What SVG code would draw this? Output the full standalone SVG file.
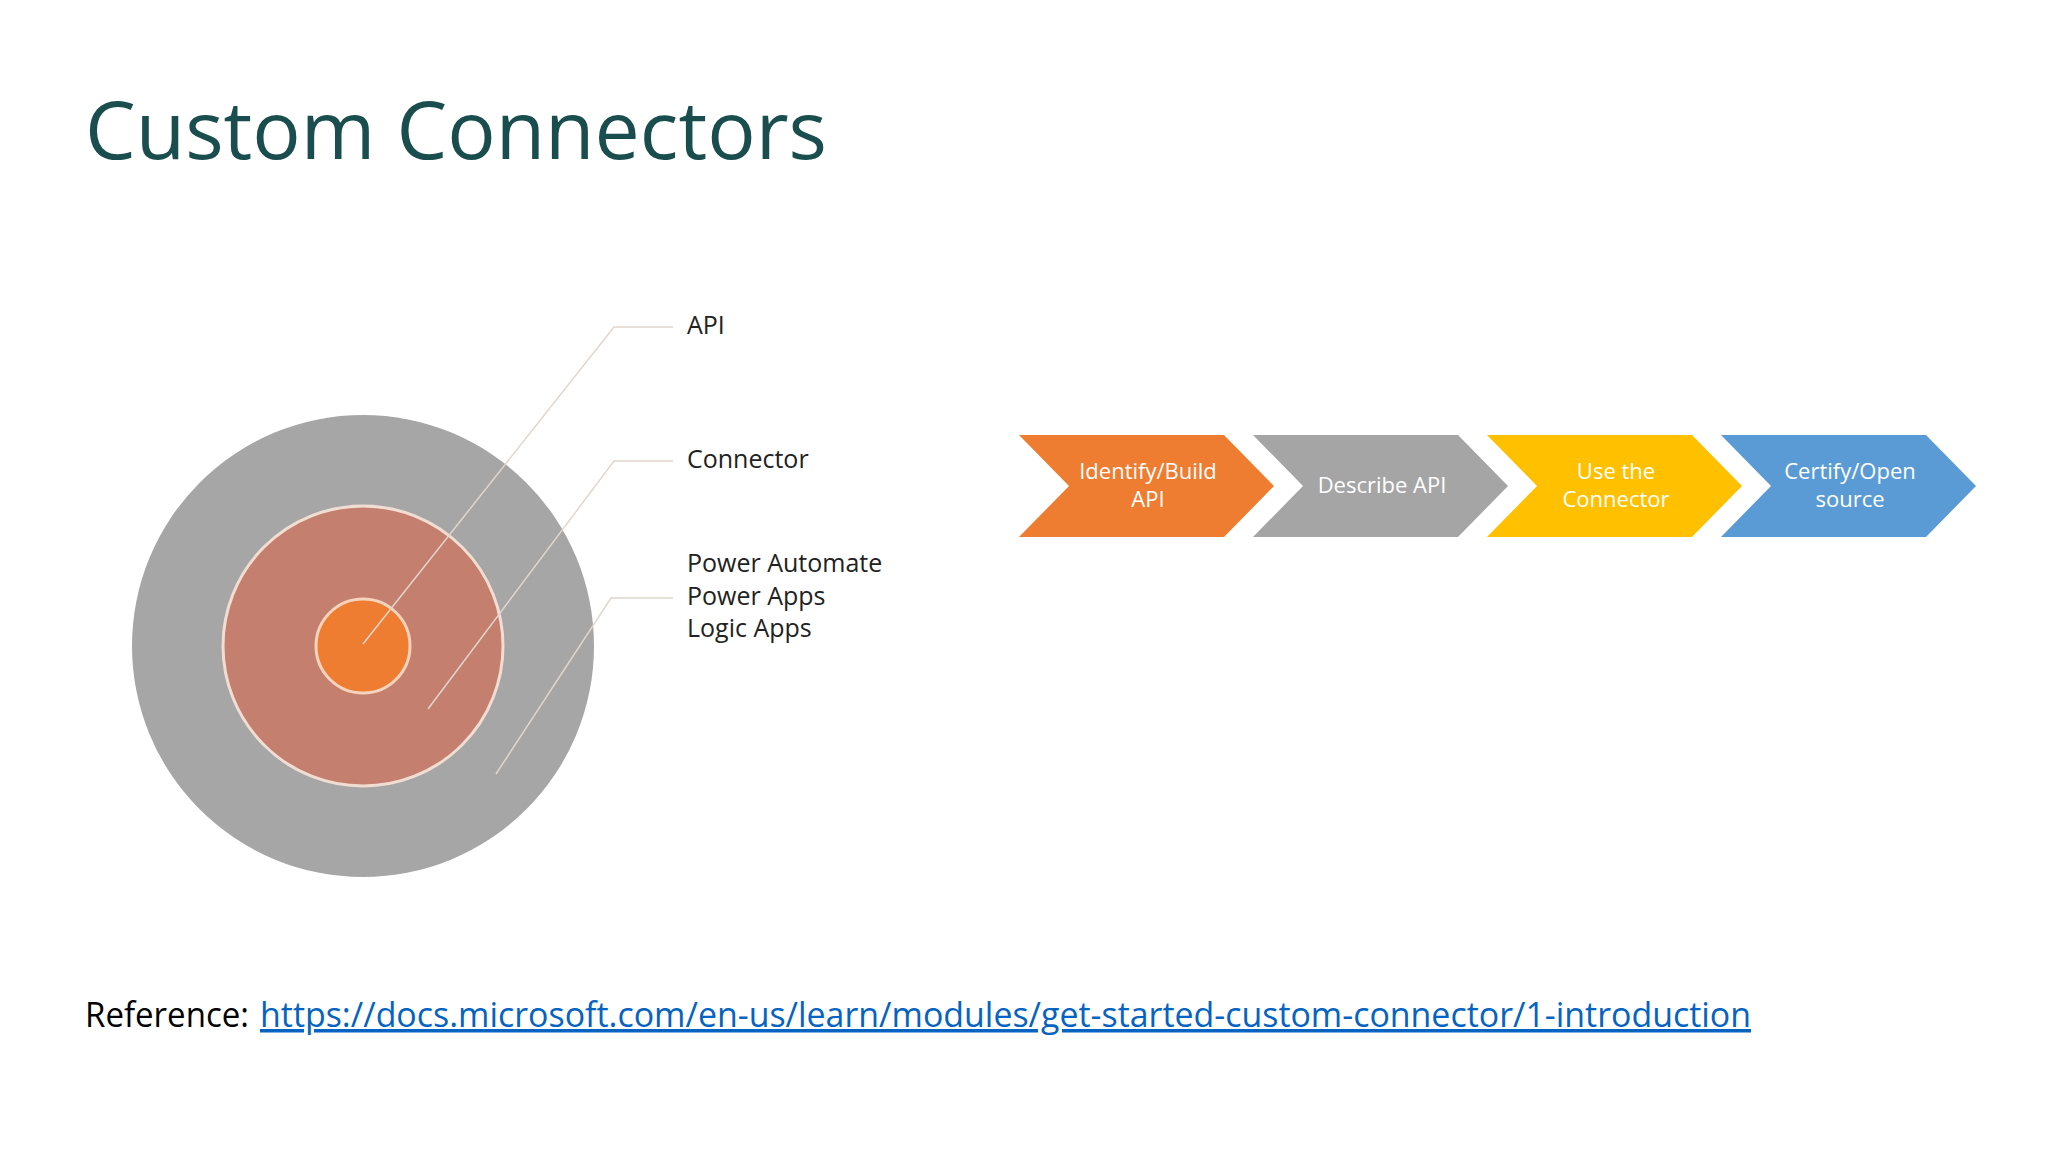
<svg xmlns="http://www.w3.org/2000/svg" width="2048" height="1152" viewBox="0 0 2048 1152">
<style>
text{font-family:"Open Sans","Noto Sans",sans-serif}
.lbl{font-size:25px;fill:#222}
.ch{font-size:22px;fill:#fff;text-anchor:middle}
.lead{fill:none;stroke:#e0d6cc;stroke-width:1.5}
</style>
<rect width="2048" height="1152" fill="#fff"/>
<text x="85" y="159" font-size="81" fill="#1a4d4d" textLength="742" lengthAdjust="spacingAndGlyphs">Custom Connectors</text>
<g id="circles">
<circle cx="363" cy="646" r="231" fill="#a6a6a6"/>
<circle cx="363" cy="646" r="140" fill="#c47f6e" stroke="#f1ddd2" stroke-width="3"/>
<circle cx="363" cy="646" r="47" fill="#ee7d31" stroke="#f6d3bd" stroke-width="3"/>
</g>
<g id="connectors">
<polyline class="lead" points="363,644 614,327 673,327"/>
<polyline class="lead" points="428,709 614,461 673,461"/>
<polyline class="lead" points="496,774 611,598 673,598"/>
</g>
<g id="labels">
<text class="lbl" x="687" y="334">API</text>
<text class="lbl" x="687" y="468">Connector</text>
<text class="lbl" x="687" y="572">Power Automate</text>
<text class="lbl" x="687" y="605">Power Apps</text>
<text class="lbl" x="687" y="637">Logic Apps</text>
</g>
<g id="step1"><polygon points="1019,435 1224,435 1274,486 1224,537 1019,537 1069,486" fill="#ee7d31"/>
<text class="ch" x="1148" y="479">Identify/Build</text><text class="ch" x="1148" y="507">API</text></g>
<g id="step2"><polygon points="1253,435 1458,435 1508,486 1458,537 1253,537 1303,486" fill="#a5a5a5"/>
<text class="ch" x="1382" y="493">Describe API</text></g>
<g id="step3"><polygon points="1487,435 1692,435 1742,486 1692,537 1487,537 1537,486" fill="#ffc000"/>
<text class="ch" x="1616" y="479">Use the</text><text class="ch" x="1616" y="507">Connector</text></g>
<g id="step4"><polygon points="1721,435 1926,435 1976,486 1926,537 1721,537 1771,486" fill="#5b9bd5"/>
<text class="ch" x="1850" y="479">Certify/Open</text><text class="ch" x="1850" y="507">source</text></g>
<text x="85" y="1027" font-size="35" fill="#000" textLength="164" lengthAdjust="spacingAndGlyphs">Reference:</text>
<text x="260" y="1027" font-size="35" fill="#0563c1" text-decoration="underline" textLength="1491" lengthAdjust="spacingAndGlyphs">https://docs.microsoft.com/en-us/learn/modules/get-started-custom-connector/1-introduction</text>
</svg>
